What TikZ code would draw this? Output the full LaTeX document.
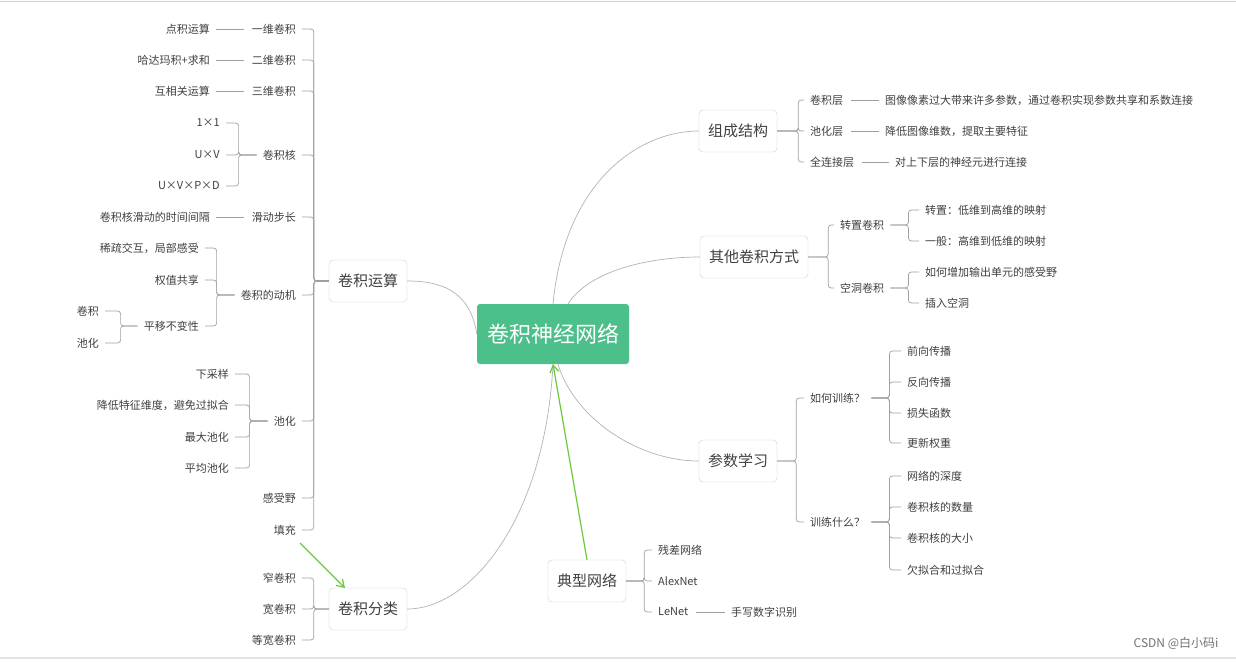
\documentclass[tikz,border=0pt]{standalone}
\usepackage{fontspec}
\usetikzlibrary{arrows.meta}
\setmainfont{Noto Sans CJK SC}
\definecolor{txt}{HTML}{404040}
\definecolor{linec}{HTML}{A0A0A0}
\definecolor{boxc}{HTML}{CFCFCF}
\definecolor{rootc}{HTML}{4DBF8A}
\definecolor{arrc}{HTML}{6CC83C}
\begin{document}
\begin{tikzpicture}[x=1pt,y=-1pt,
  lbl/.style={font=\fontsize{11}{13}\selectfont, text=txt, inner xsep=6pt, inner ysep=2pt},
  box/.style={draw=boxc, rounded corners=4pt, minimum height=42pt, inner xsep=9pt, font=\fontsize{15}{18}\selectfont, text=txt, fill=white},
  con/.style={draw=linec, line width=0.7pt, rounded corners=3pt},
  curve/.style={draw=linec!80, line width=0.7pt},
  garr/.style={draw=arrc, line width=1.2pt, -{Straight Barb[length=7pt,width=9pt]}}]
\useasboundingbox (0,0) rectangle (1236,661);
\fill[white] (0,0) rectangle (1236,661);
\draw[boxc,line width=1pt] (0,1.5) -- (1236,1.5);
\draw[boxc!60,line width=2pt] (0,658) -- (1236,658);
% root
\node[fill=rootc, rounded corners=3pt, minimum width=152pt, minimum height=60pt, text=white, font=\fontsize{22}{26}\selectfont] (root) at (553,334) {卷积神经网络};
% main boxes
\node[box] (ys) at (368,281) {卷积运算};
\node[box] (fl) at (368,609) {卷积分类};
\node[box] (zc) at (738,131) {组成结构};
\node[box] (qt) at (754,257) {其他卷积方式};
\node[box] (cs) at (738,461) {参数学习};
\node[box] (dx) at (587,581) {典型网络};
% curves
\draw[curve] (ys.east) .. controls (440,281) and (470,290) .. (root.west);
\draw[curve] (fl.east) .. controls (470,609) and (545,520) .. (root.south);
\draw[curve] (root.north) .. controls (565,180) and (640,131) .. (zc.west);
\draw[curve] (root.north) ++(15,0) .. controls (590,270) and (650,257) .. (qt.west);
\draw[curve] (root.south) ++(5,0) .. controls (575,420) and (640,461) .. (cs.west);
% left: 卷积运算 children
\foreach \n/\t/\y in {a1/一维卷积/29,a2/二维卷积/60,a3/三维卷积/91,a4/卷积核/155,a5/滑动步长/217,a6/卷积的动机/295,a7/池化/421,a8/感受野/498,a9/填充/530}{
  \node[lbl,anchor=east] (\n) at (302,\y) {\t};
  \draw[con] (ys.west) -- ++(-15,0) |- (\n.east);
}
\node[lbl,anchor=east] (b1) at (216,29) {点积运算};
\node[lbl,anchor=east] (b2) at (216,60) {哈达玛积+求和};
\node[lbl,anchor=east] (b3) at (216,91) {互相关运算};
\node[lbl,anchor=east] (b5) at (216,217) {卷积核滑动的时间间隔};
\foreach \p/\c in {a1/b1,a2/b2,a3/b3,a5/b5}{\draw[con] (\p.west) ++(-2,0) -- (\c.east);}
% 卷积核
\foreach \n/\t/\y in {k1/1×1/123,k2/U×V/155,k3/U×V×P×D/186}{
  \node[lbl,anchor=east] (\n) at (226,\y) {\t};
  \draw[con] (a4.west) -- ++(-18,0) |- (\n.east);
}
% 动机
\foreach \n/\t/\y in {m1/稀疏交互，局部感受/248,m2/权值共享/280,m3/平移不变性/326}{
  \node[lbl,anchor=east] (\n) at (205,\y) {\t};
  \draw[con] (a6.west) -- ++(-18,0) |- (\n.east);
}
\foreach \n/\t/\y in {p1/卷积/311,p2/池化/343}{
  \node[lbl,anchor=east] (\n) at (105,\y) {\t};
  \draw[con] (m3.west) -- ++(-17,0) |- (\n.east);
}
% 池化
\foreach \n/\t/\y in {c1/下采样/374,c2/降低特征维度，避免过拟合/405,c3/最大池化/437,c4/平均池化/468}{
  \node[lbl,anchor=east] (\n) at (235,\y) {\t};
  \draw[con] (a7.west) -- ++(-18,0) |- (\n.east);
}
% 卷积分类
\foreach \n/\t/\y in {f1/窄卷积/578,f2/宽卷积/609,f3/等宽卷积/640}{
  \node[lbl,anchor=east] (\n) at (302,\y) {\t};
  \draw[con] (fl.west) -- ++(-15,0) |- (\n.east);
}
% 组成结构
\foreach \n/\t/\y in {z1/卷积层/100,z2/池化层/131,z3/全连接层/162}{
  \node[lbl,anchor=west] (\n) at (804,\y) {\t};
  \draw[con] (zc.east) -- ++(21,0) |- (\n.west);
}
\node[lbl,anchor=west] (zl1) at (879,100) {图像像素过大带来许多参数，通过卷积实现参数共享和系数连接};
\node[lbl,anchor=west] (zl2) at (879,131) {降低图像维数，提取主要特征};
\node[lbl,anchor=west] (zl3) at (889,162) {对上下层的神经元进行连接};
\foreach \p/\c in {z1/zl1,z2/zl2,z3/zl3}{\draw[con] (\p.east) ++(2,0) -- (\c.west);}
% 其他卷积方式
\foreach \n/\t/\y in {q1/转置卷积/225,q2/空洞卷积/288}{
  \node[lbl,anchor=west] (\n) at (834,\y) {\t};
  \draw[con] (qt.east) -- ++(20,0) |- (\n.west);
}
\foreach \n/\t/\y in {r1/转置：低维到高维的映射/210,r2/一般：高维到低维的映射/241}{
  \node[lbl,anchor=west] (\n) at (919,\y) {\t};
  \draw[con] (q1.east) -- ++(18,0) |- (\n.west);
}
\foreach \n/\t/\y in {r3/如何增加输出单元的感受野/272,r4/插入空洞/303}{
  \node[lbl,anchor=west] (\n) at (919,\y) {\t};
  \draw[con] (q2.east) -- ++(18,0) |- (\n.west);
}
% 参数学习
\foreach \n/\t/\y in {s1/如何训练？/398,s2/训练什么？/522}{
  \node[lbl,anchor=west] (\n) at (804,\y) {\t};
  \draw[con] (cs.east) -- ++(19,0) |- (\n.west);
}
\foreach \n/\t/\y in {t1/前向传播/351,t2/反向传播/382,t3/损失函数/413,t4/更新权重/443}{
  \node[lbl,anchor=west] (\n) at (901,\y) {\t};
  \draw[con] (s1.east) -- ++(18,0) |- (\n.west);
}
\foreach \n/\t/\y in {u1/网络的深度/476,u2/卷积核的数量/507,u3/卷积核的大小/538,u4/欠拟合和过拟合/570}{
  \node[lbl,anchor=west] (\n) at (901,\y) {\t};
  \draw[con] (s2.east) -- ++(18,0) |- (\n.west);
}
% 典型网络
\foreach \n/\t/\y in {d1/残差网络/550,d2/AlexNet/581,d3/LeNet/612}{
  \node[lbl,anchor=west] (\n) at (652,\y) {\t};
  \draw[con] (dx.east) -- ++(18,0) |- (\n.west);
}
\node[lbl,anchor=west] (d4) at (725,612) {手写数字识别};
\draw[con] (d3.east) ++(2,0) -- (d4.west);
% green arrows
\coordinate (g0) at (300,543);
\coordinate (g1) at (345,588);
\draw[garr] (g0) -- (g1);
\draw[garr] (dx.north) -- (root.south);
% watermark
\node[font=\fontsize{12}{14}\selectfont, text=black!55, anchor=east] (wm) at (1222,643) {CSDN @白小码i};
\end{tikzpicture}
\end{document}
